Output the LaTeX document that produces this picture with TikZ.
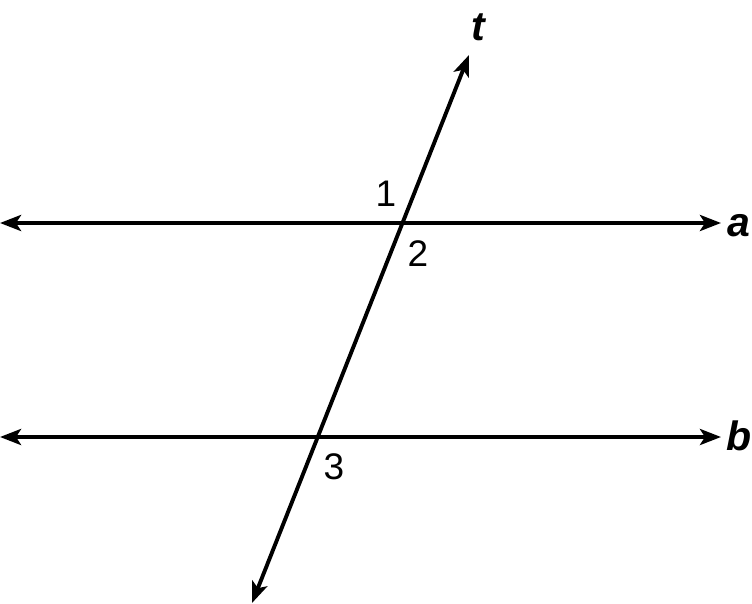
\documentclass[tikz,border=0pt]{standalone}
\usepackage{fontspec}
\setmainfont{Liberation Sans}
\usetikzlibrary{arrows.meta}
\begin{document}
\begin{tikzpicture}[x=1bp,y=-1bp,
  ln/.style={line width=3.9bp,{Stealth[length=21bp,width=16bp,inset=5bp]}-{Stealth[length=21bp,width=16bp,inset=5bp]}},
  num/.style={inner sep=0pt,font=\fontsize{37bp}{37bp}\selectfont},
  lett/.style={inner sep=0pt,font=\fontsize{41bp}{41bp}\selectfont\bfseries\itshape}]
\useasboundingbox (0,0) rectangle (752,604);
\coordinate (aL) at (0,223);
\coordinate (aR) at (721,223);
\coordinate (bL) at (0,437);
\coordinate (bR) at (721,437);
\coordinate (tB) at (252,603);
\coordinate (tT) at (469,55);
\draw[ln] (aL) -- (aR);
\draw[ln] (bL) -- (bR);
\draw[ln] (tB) -- (tT);
\node[lett] (lt) at (478,27) {t};
\node[lett,anchor=base] (la) at (739,236) {a};
\node[lett,anchor=base] (lb) at (739,450) {b};
\node[num] (n1) at (386,194) {1};
\node[num] (n2) at (418,254) {2};
\node[num] (n3) at (334,467) {3};
\end{tikzpicture}
\end{document}
